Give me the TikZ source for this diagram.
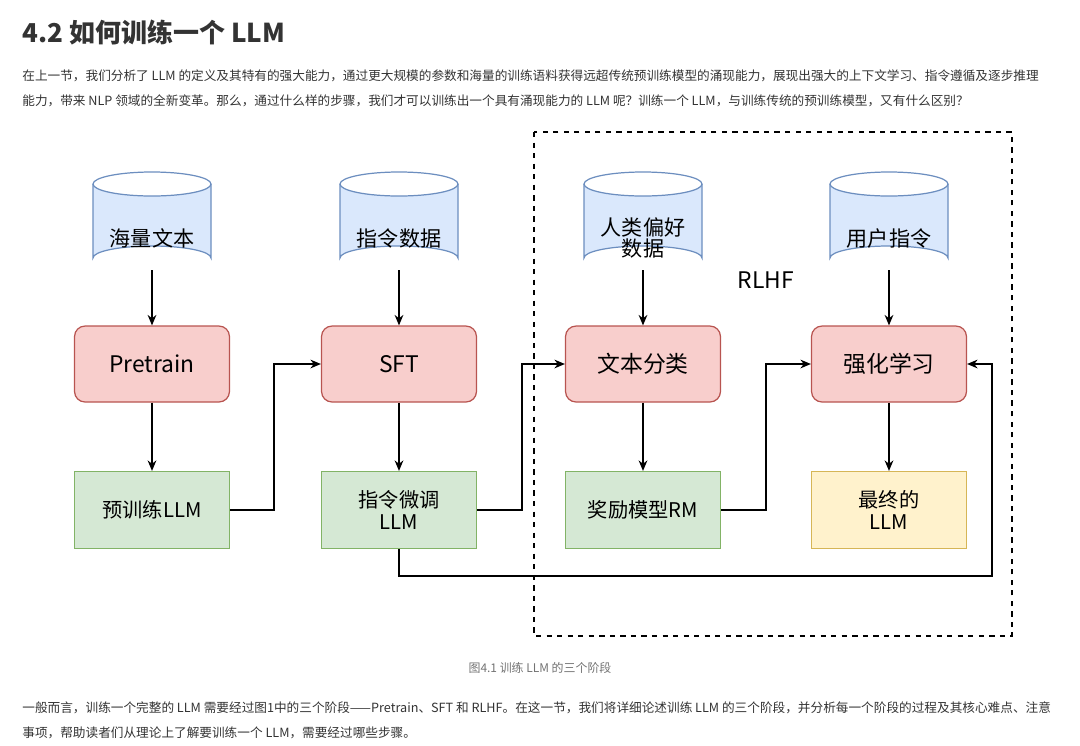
\documentclass[tikz,border=0pt]{standalone}
\usepackage{fontspec}
\setmainfont{Noto Sans CJK SC}
\usetikzlibrary{arrows.meta}
\definecolor{txt}{HTML}{333333}
\definecolor{cylfill}{HTML}{DAE8FC}\definecolor{cylline}{HTML}{6C8EBF}
\definecolor{rf}{HTML}{F8CECC}\definecolor{rl}{HTML}{B85450}
\definecolor{gf}{HTML}{D5E8D4}\definecolor{gl}{HTML}{82B366}
\definecolor{yf}{HTML}{FFF2CC}\definecolor{yl}{HTML}{D6B656}
\tikzset{
  red/.style={draw=rl, fill=rf, rounded corners=6pt, minimum width=3.1cm, minimum height=1.52cm, align=center, font=\fontsize{13pt}{15pt}\selectfont, line width=0.7pt},
  green/.style={draw=gl, fill=gf, minimum width=3.1cm, minimum height=1.54cm, align=center, font=\fontsize{11.5pt}{13pt}\selectfont, line width=0.7pt},
  yellow/.style={green, draw=yl, fill=yf},
  para/.style={anchor=west, text=txt, font=\fontsize{7.2pt}{9pt}\selectfont, inner sep=0pt},
  arr/.style={-{Stealth[length=6pt,width=5pt]}, line width=0.7pt},
}
% cylinder: #1 name, #2 centre x, #3 label
\newcommand\mycyl[3]{%
  \fill[cylfill] (#2-59,184) -- (#2-59,258) arc[start angle=180,end angle=360,x radius=59,y radius=12] -- (#2+59,184) arc[start angle=0,end angle=180,x radius=59,y radius=12];
  \draw[cylline, line width=0.7pt] (#2-59,184) -- (#2-59,258) arc[start angle=180,end angle=360,x radius=59,y radius=12] -- (#2+59,184);
  \draw[cylline, line width=0.7pt] (#2,184) ellipse[x radius=59,y radius=12];
  \node[align=center, font=\fontsize{12pt}{13pt}\selectfont] (#1) at (#2,238) {#3};
  \coordinate (#1b) at (#2,270);
}
\begin{document}
\begin{tikzpicture}[x=0.02cm,y=-0.02cm]
\useasboundingbox (0,0) rectangle (1080,745);
\node[anchor=west, font=\fontsize{14.8pt}{16pt}\selectfont\bfseries, text=txt, inner sep=0pt] (title) at (22,32) {4.2 如何训练一个 LLM};
\node[para] (p1) at (22,76) {在上一节，我们分析了 LLM 的定义及其特有的强大能力，通过更大规模的参数和海量的训练语料获得远超传统预训练模型的涌现能力，展现出强大的上下文学习、指令遵循及逐步推理};
\node[para] (p2) at (22,101) {能力，带来 NLP 领域的全新变革。那么，通过什么样的步骤，我们才可以训练出一个具有涌现能力的 LLM 呢？训练一个 LLM，与训练传统的预训练模型，又有什么区别？};

\draw[dashed, line width=0.7pt] (534,132) rectangle (1012,636);
\node[font=\fontsize{13pt}{14pt}\selectfont] (rlhf) at (766,280) {RLHF};

\mycyl{c1}{152}{海量文本}
\mycyl{c2}{399}{指令数据}
\mycyl{c3}{643}{人类偏好\\[-1pt]数据}
\mycyl{c4}{889}{用户指令}

\node[red] (r1) at (152,364) {Pretrain};
\node[red] (r2) at (399,364) {SFT};
\node[red] (r3) at (643,364) {文本分类};
\node[red] (r4) at (889,364) {强化学习};

\node[green] (g1) at (152,510) {预训练LLM};
\node[green] (g2) at (399,510) {指令微调\\LLM};
\node[green] (g3) at (643,510) {奖励模型RM};
\node[yellow] (g4) at (889,510) {最终的\\LLM};

\foreach \i in {1,...,4}{
  \draw[arr] (c\i b) -- (r\i);
  \draw[arr] (r\i) -- (g\i);
}
\draw[arr] (g1.east) -- ++(44,0) |- (r2.west);
\draw[arr] (g2.east) -- ++(45,0) |- (r3.west);
\draw[arr] (g3.east) -- ++(45,0) |- (r4.west);
\coordinate (loop) at (992,576);
\draw[arr] (g2.south) |- (loop) |- (r4.east);

\node[text=gray!90!black, font=\fontsize{6.8pt}{8pt}\selectfont] (cap) at (540,668) {图4.1 训练 LLM 的三个阶段};
\node[para] (p3) at (22,708) {一般而言，训练一个完整的 LLM 需要经过图1中的三个阶段——Pretrain、SFT 和 RLHF。在这一节，我们将详细论述训练 LLM 的三个阶段，并分析每一个阶段的过程及其核心难点、注意};
\node[para] (p4) at (22,733) {事项，帮助读者们从理论上了解要训练一个 LLM，需要经过哪些步骤。};
\end{tikzpicture}
\end{document}
